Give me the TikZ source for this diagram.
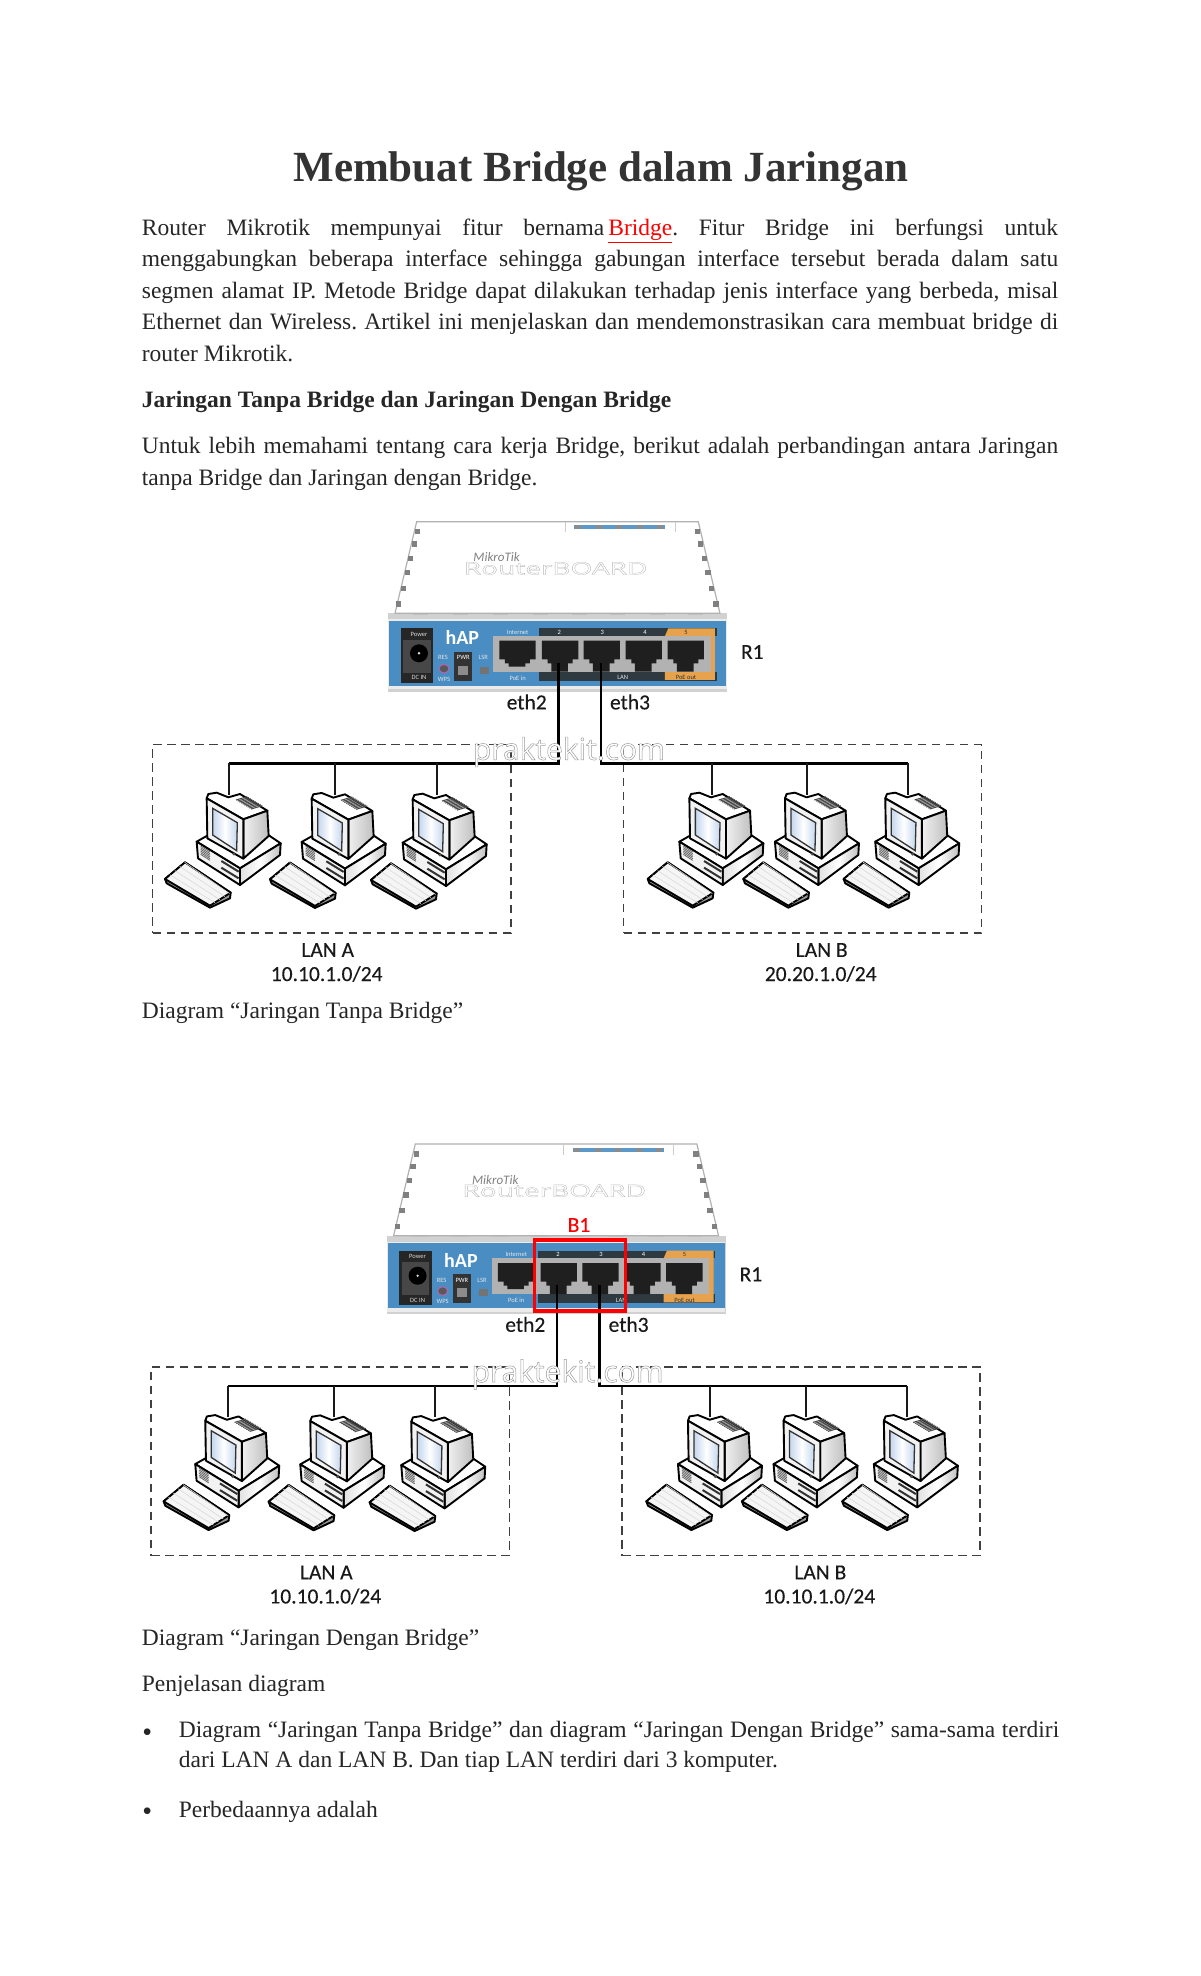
\documentclass[tikz,border=0pt]{standalone}
\usepackage{fontspec}
\usepackage{graphicx}
\setmainfont{Liberation Serif}
\newfontfamily\dgfont[FakeBold=0.25]{Carlito}
\newfontfamily\smfont{Carlito}
\newfontfamily\wmfont[FakeBold=1.6]{Open Sans}
\usetikzlibrary{calc}
\definecolor{txt}{HTML}{262626}
\definecolor{ttl}{HTML}{333333}
\definecolor{panel}{HTML}{4A8DC2}
\definecolor{darkstrip}{HTML}{2E3A40}
\definecolor{orangep}{HTML}{E6A24C}
\definecolor{frameg}{HTML}{B2B2B2}
\definecolor{scr}{HTML}{C4D6EE}
\tikzset{
  body/.style={anchor=base west,inner sep=0pt,text=txt,font=\fontsize{23.5}{28}\selectfont\frenchspacing},
  boldhead/.style={anchor=base west,inner sep=0pt,text=txt,font=\fontsize{23.5}{28}\selectfont\bfseries},
  title/.style={anchor=base,inner sep=0pt,text=ttl,font=\fontsize{43}{48}\selectfont\bfseries},
  bulletmark/.style={anchor=base,inner sep=0pt,text=txt,font=\fontsize{28}{28}\selectfont},
  dglabel/.style={inner sep=0pt,text=black!90,font=\dgfont\fontsize{21.5}{24}\selectfont},
  tiny/.style={inner sep=0pt,font=\smfont\fontsize{6.5}{8}\selectfont},
  lanbox/.style={draw=black!75,line width=1.7pt,dash pattern=on 8.5pt off 5.5pt},
  mainwire/.style={draw=black,line width=2.4pt},
  branch/.style={draw=black!90,line width=1.9pt},
  pcline/.style={draw=black,line width=1.9pt,line join=round},
  wmark/.style={inner sep=0pt,text=white,font=\wmfont\fontsize{30}{34}\selectfont},
  logo/.style={inner sep=0pt,text=white,font=\wmfont\fontsize{17}{20}\selectfont},
}
% one workstation, local units are 1/3 px
\newcommand\workstation[2]{%
\begin{scope}[shift={(#1,#2)},x=.3333pt,y=-.3333pt]
  % keyboard
  \path[pcline,fill=black!40] (-75,297) -- (-15,247) -- (122,338) -- (120,355) -- (60,383) -- (-70,310) -- cycle;
  \path[pcline,fill=black!4] (-75,297) -- (-15,247) -- (122,338) -- (60,377) -- cycle;
  \foreach \k in {25,50,75,100}{\draw[black!15,line width=.6pt] ({-75+.42*\k*1.4},{297-.36*\k*1.4+0}) -- ({60+.42*\k*1.4},{377-.26*\k*1.4});}
  % base
  \path[pcline,fill=white] (20,185) -- (50,168) -- (160,230) -- (235,165) -- (272,190) -- (150,265) -- cycle;
  \path[pcline,left color=black!12,right color=black!25,middle color=white] (150,265) -- (272,190) -- (270,225) -- (150,315) -- cycle;
  \path[pcline,fill=black!5] (20,185) -- (150,265) -- (150,315) -- (24,235) -- cycle;
  \foreach \k in {0,5,...,25}{\draw[black!60,line width=.8pt] (32,{198+\k}) -- (60,{216+\k});}
  \draw[black!80,line width=2pt] (94,243) -- (146,275) (94,263) -- (146,295);
  % monitor
  \path[pcline,fill=white] (50,55) -- (55,42) -- (80,38) -- (115,52) -- (150,42) -- (232,92) -- (160,118) -- cycle;
  \path[pcline,left color=black!6,right color=black!25] (160,118) -- (232,92) -- (236,168) -- (160,236) -- cycle;
  \path[pcline,fill=black!5] (50,55) -- (160,118) -- (160,236) -- (52,175) -- cycle;
  \shade[left color=scr,right color=scr,middle color=white,draw=black!80,line width=1.3pt] (68,85) -- (142,128) -- (140,212) -- (68,165) -- cycle;
  \fill[black!70] (132,222) circle (5);
  \foreach \k in {0,5,...,45}{\draw[black!70,line width=1.1pt] ({138+\k},{60+.6*\k}) -- ({172+\k},{50+.6*\k});}
\end{scope}}
% one RJ45 socket
\newcommand\socket[2]{%
  \fill[black!88,shift={(#1,0)}] (0,422) -- (109,422) -- (109,478) -- (92,478) -- (92,490) -- (78,490) -- (78,#2) -- (28,#2) -- (28,490) -- (17,490) -- (17,478) -- (0,478) -- cycle;}
% router, local units 1/3 px
\newcommand\routerbox[1]{%
\begin{scope}[x=.3333pt,y=-.3333pt]
  \fill[black!18] (55,340) rectangle (1072,575);
  \filldraw[draw=black!30,fill=white,line width=1.2pt] (140,65) -- (985,65) -- (1050,340) -- (75,340) -- cycle;
  \foreach \x/\y in {143/95,133/132,122/175,112/218,100/265,86/312,982/95,992/132,1003/175,1014/218,1024/265,1038/312}{
    \fill[black!50] (\x-8,\y-8) rectangle (\x+8,\y+8);}
  \foreach \x in {130,250,370,490,605,720,840,955}{\draw[black!25,line width=1pt] (\x,343) -- (\x+45,343);}
  \draw[black!20,line width=.8pt] (585,65) -- (585,97) (915,65) -- (915,97);
  \fill[panel!90] (612,76) rectangle (885,88);
  \foreach \x in {625,687,748,810,870}{\fill[black!45] (\x-9,76) rectangle (\x+9,88);}
  \node[inner sep=0pt,text=black!50,font=\smfont\itshape\fontsize{13}{14}\selectfont] (#1mt) at (380,172) {MikroTik};
  \node[logo] (#1rb) at (557,205) {\scalebox{1.65}[1]{\special{pdf:code 0.72 G}RouterBOARD}};
  % front panel
  \fill[black!8] (55,358) rectangle (1070,568);
  \fill[panel] (57,363) rectangle (1068,558);
  \fill[darkstrip] (508,385) rectangle (1040,408);
  \fill[darkstrip] (508,515) rectangle (1040,543);
  \fill[orangep] (895,385) -- (1035,385) -- (1035,540) -- (885,540) -- (885,515) -- (1022,515) -- (1022,408) -- (885,408) -- cycle;
  \fill[frameg] (370,408) rectangle (1022,515);
  \socket{388}{500}\socket{516}{515}\socket{641}{515}\socket{767}{515}\socket{893}{515}
  \fill[black!85] (92,385) rectangle (190,548);
  \fill[black!72] (100,420) rectangle (182,518);
  \fill[black] (147,460) circle (27);
  \fill[black!10] (147,460) circle (4);
  \node[tiny,text=black!15] (#1pw) at (147,403) {Power};
  \node[tiny,text=black!15] (#1dc) at (147,533) {DC IN};
  \node[inner sep=0pt,text=white,font=\smfont\bfseries\fontsize{20}{24}\selectfont] (#1hap) at (277,413) {hAP};
  \node[tiny,text=black!10] (#1res) at (219,473) {RES};
  \filldraw[draw=violet!60,fill=black!65,line width=1pt] (222,506) ellipse (15 and 13);
  \node[tiny,text=black!10] (#1wps) at (222,537) {WPS};
  \fill[black!80] (253,455) rectangle (307,542);
  \node[tiny,text=white] (#1pwr) at (280,473) {PWR};
  \fill[black!45] (265,497) rectangle (295,525);
  \node[tiny,text=black!10] (#1lsr) at (340,473) {LSR};
  \fill[black!55] (330,500) rectangle (358,522);
  \node[tiny,text=black!10] (#1inet) at (443,396) {Internet};
  \node[tiny,text=black!10] (#1poe) at (443,534) {PoE in};
  \node[tiny,text=white] (#1n2) at (568,397) {2};
  \node[tiny,text=white] (#1n3) at (697,397) {3};
  \node[tiny,text=white] (#1n4) at (825,397) {4};
  \node[tiny,text=black!80] (#1n5) at (948,397) {5};
  \node[tiny,text=black!10] (#1lan) at (758,533) {LAN};
  \node[tiny,text=black!80] (#1pout) at (948,533) {PoE out};
\end{scope}}
% the full network drawing; #1 name prefix, #2 address of LAN B
\newcommand\network[2]{%
  \begin{scope}[shift={(370,500)}]\routerbox{#1}\end{scope}
  \node[dglabel] (#1r) at (752.3,652) {R1};
  \node[dglabel] (#1e2) at (526.7,702) {eth2};
  \node[dglabel] (#1e3) at (630,702) {eth3};
  \node[lanbox,anchor=north west,minimum width=358.3pt,minimum height=188.6pt,inner sep=0pt] (#1la) at (151.7,743.7) {};
  \node[lanbox,anchor=north west,minimum width=358pt,minimum height=188.6pt,inner sep=0pt] (#1lb) at (622.7,743.7) {};
  \foreach \ox/\oy in {190/780,295/780.3,396/781,672.7/780,768.3/780,868.6/780}{\workstation{\ox}{\oy}}
  \coordinate (#1p2) at (558.3,663);
  \coordinate (#1p3) at (600.7,663);
  \coordinate (#1busA) at (558.3,763.3);
  \coordinate (#1busB) at (600.7,763.3);
  \coordinate (#1a1) at (229.3,795);
  \coordinate (#1a2) at (335,795);
  \coordinate (#1a3) at (436.7,795);
  \coordinate (#1b1) at (711.7,795);
  \coordinate (#1b2) at (807.3,795);
  \coordinate (#1b3) at (908.3,795);
  \draw[mainwire] (#1p2) -- (#1busA) -- (#1busA -| #1a1);
  \draw[mainwire] (#1p3) -- (#1busB) -- (#1busB -| #1b3);
  \foreach \c in {a1,a2,a3}{\draw[branch] (#1busA -| #1\c) -- (#1\c);}
  \foreach \c in {b1,b2,b3}{\draw[branch] (#1busB -| #1\c) -- (#1\c);}
  \node[dglabel] (#1ta) at (327.7,950) {LAN A};
  \node[dglabel] (#1tb) at (821.7,950) {LAN B};
  \node[dglabel] (#1aa) at (326.7,974) {10.10.1.0/24};
  \node[dglabel] (#1ab) at (820.7,974) {#2};
}
\begin{document}
\begin{tikzpicture}[x=1pt,y=-1pt]
\useasboundingbox (0,0) rectangle (1200,1976);
\fill[white] (0,0) rectangle (1200,1976);
\node[title] (ttl) at (601,181) {Membuat Bridge dalam Jaringan};
\node[body] (l1) at (141.7,235.5) {\makebox[916.3pt][s]{Router Mikrotik mempunyai fitur bernama\kern4pt{\color{red}\underline{Bridge}}. Fitur Bridge ini berfungsi untuk}};
\node[body] (l2) at (141.7,266.7) {\makebox[916.3pt][s]{menggabungkan beberapa interface sehingga gabungan interface tersebut berada dalam satu}};
\node[body] (l3) at (141.7,298) {\makebox[916.3pt][s]{segmen alamat IP. Metode Bridge dapat dilakukan terhadap jenis interface yang berbeda, misal}};
\node[body] (l4) at (141.7,329) {\makebox[916.3pt][s]{Ethernet dan Wireless. Artikel ini menjelaskan dan mendemonstrasikan cara membuat bridge di}};
\node[body] (l5) at (141.7,361) {router Mikrotik.};
\node[boldhead] (h1) at (141.7,407) {Jaringan Tanpa Bridge dan Jaringan Dengan Bridge};
\node[body] (l6) at (141.7,453) {\makebox[916.3pt][s]{Untuk lebih memahami tentang cara kerja Bridge, berikut adalah perbandingan antara Jaringan}};
\node[body] (l7) at (141.7,485) {tanpa Bridge dan Jaringan dengan Bridge.};
\network{x}{20.20.1.0/24}
\node[body] (c1) at (141.7,1018) {Diagram “Jaringan Tanpa Bridge”};
\node[wmark] (wm1) at (569,752) {\special{pdf:code 0.6 G}praktekit.com};
\begin{scope}[shift={(-1.4,622.4)}]
\network{y}{10.10.1.0/24}
\node[wmark] (wm2) at (569,752) {\special{pdf:code 0.6 G}praktekit.com};
\end{scope}
\node[draw=red,line width=3.2pt,minimum width=91.7pt,minimum height=71pt,inner sep=0pt,anchor=north west] (bb) at (532.5,1238.3) {};
\node[dglabel,text=red] (bl) at (579,1225) {B1};
\node[body] (c2) at (141.7,1645) {Diagram “Jaringan Dengan Bridge”};
\node[body] (c3) at (141.7,1691) {Penjelasan diagram};
\node[bulletmark] (b1) at (147.3,1741.5) {•};
\node[body] (t1) at (178.7,1737.7) {\makebox[880.3pt][s]{Diagram “Jaringan Tanpa Bridge” dan diagram “Jaringan Dengan Bridge” sama-sama terdiri}};
\node[body] (t2) at (178.7,1767.7) {dari LAN A dan LAN B. Dan tiap LAN terdiri dari 3 komputer.};
\node[bulletmark] (b2) at (147.3,1820) {•};
\node[body] (t3) at (178.7,1817) {Perbedaannya adalah};
\end{tikzpicture}
\end{document}
